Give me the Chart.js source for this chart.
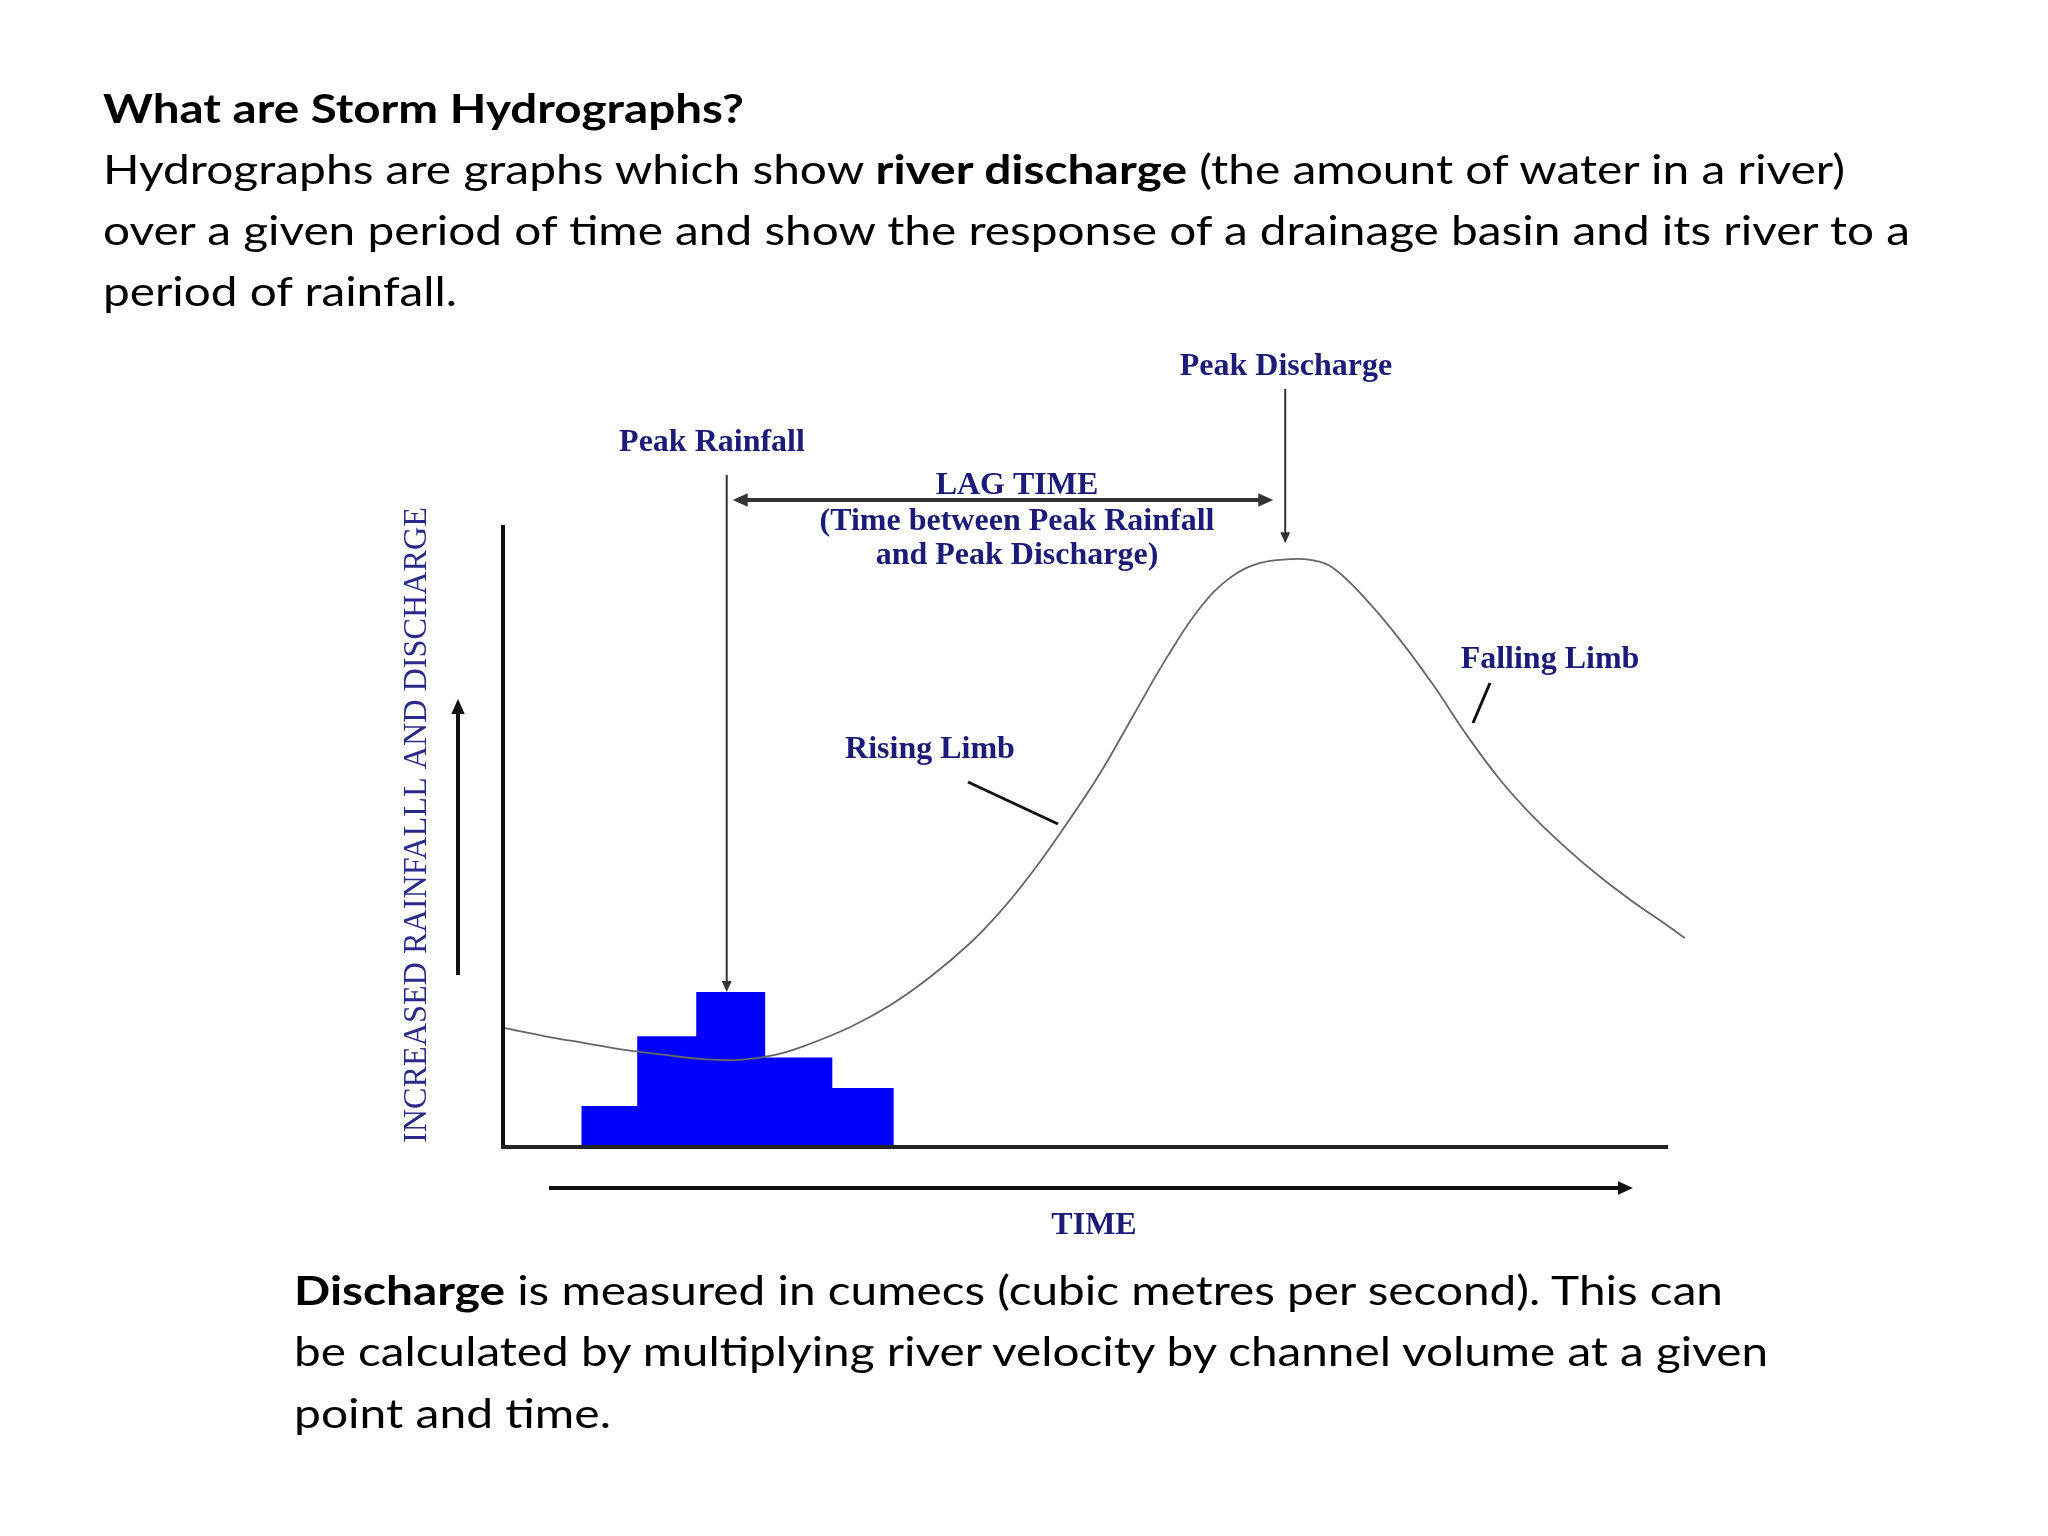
<!DOCTYPE html>
<html>
<head>
<meta charset="utf-8">
<title>What are Storm Hydrographs?</title>
<script src="https://cdn.jsdelivr.net/npm/chart.js@4.4.1/dist/chart.umd.min.js"></script>
<style>
  html, body { margin: 0; padding: 0; background: #fff; }
  #page { position: relative; width: 2048px; height: 1536px; overflow: hidden; background: #fff; }
  #chart { position: absolute; left: 0; top: 0; }
  .ln {
    position: absolute; white-space: nowrap; line-height: 1;
    font-family: Lato, 'Open Sans', sans-serif; font-size: 41px; color: #000;
    transform-origin: 0 0;
  }
  .ln b { font-weight: 700; }
</style>
</head>
<body>
<div id="page">
  <canvas id="chart" width="2048" height="1536"></canvas>

  <div class="ln" data-x="103" data-base="123" data-w="641"><b>What are Storm Hydrographs?</b></div>
  <div class="ln" data-x="103" data-base="184" data-w="1742">Hydrographs are graphs which show <b>river discharge</b> (the amount of water in a river)</div>
  <div class="ln" data-x="103" data-base="245" data-w="1807">over a given period of time and show the response of a drainage basin and its river to a</div>
  <div class="ln" data-x="103" data-base="306" data-w="354">period of rainfall.</div>

  <div class="ln" data-x="294" data-base="1305" data-w="1429"><b>Discharge</b> is measured in cumecs (cubic metres per second). This can</div>
  <div class="ln" data-x="294" data-base="1366" data-w="1474">be calculated by multiplying river velocity by channel volume at a given</div>
  <div class="ln" data-x="294" data-base="1428" data-w="317">point and time.</div>
</div>

<script>
// time axis (arbitrary hours from start of the storm)
const timeHours = [0.03, 0.68, 1.32, 1.96, 2.61, 3.25, 3.81, 4.38, 4.89, 5.59, 6.23, 6.87,
  7.52, 8.00, 8.48, 8.97, 9.61, 10.14, 10.69, 11.22, 11.70, 12.19, 12.67, 12.99,
  13.36, 13.91, 14.44, 14.97, 15.52, 16.05, 16.58, 17.13, 17.66, 18.19, 18.70, 19.02];
// river discharge (relative units)
const discharge = [19.1, 17.8, 16.7, 15.6, 14.8, 14.1, 14.0, 14.8, 16.4, 19.3, 22.8, 27.3,
  32.8, 37.8, 43.7, 50.5, 60.1, 69.3, 78.8, 86.7, 91.5, 93.9, 94.5, 94.4,
  93.1, 87.8, 81.5, 74.3, 66.1, 59.0, 53.1, 47.9, 43.4, 39.4, 35.9, 33.6];
// rainfall blocks: edges on the time axis and the amount in each block
const rainEdges = [1.26, 2.16, 3.11, 4.22, 5.30, 6.29];
const rainfall = [6.6, 17.8, 24.9, 14.4, 9.5];

const yLabel = 'INCREASED RAINFALLL AND DISCHARGE';
const xLabel = 'TIME';

// fit the slide text lines: put the baseline where it belongs, squeeze to width
function placeLines() {
  const pageTop = document.getElementById('page').getBoundingClientRect().top;
  document.querySelectorAll('.ln').forEach(el => {
    const mark = document.createElement('span');
    mark.style.cssText = 'display:inline-block;width:0;height:0;';
    el.appendChild(mark);
    el.style.left = el.dataset.x + 'px';
    el.style.top = '0px';
    const base = mark.getBoundingClientRect().bottom - pageTop;
    el.style.top = (Number(el.dataset.base) - base) + 'px';
    const w = el.getBoundingClientRect().width;
    el.style.transform = 'scaleX(' + (Number(el.dataset.w) / w) + ')';
  });
}

function arrow(ctx, x1, y1, x2, y2, head, width, color, both) {
  ctx.save();
  ctx.strokeStyle = color;
  ctx.fillStyle = color;
  ctx.lineWidth = width;
  const ang = Math.atan2(y2 - y1, x2 - x1);
  const tip = (px, py, a) => {
    ctx.beginPath();
    ctx.moveTo(px, py);
    ctx.lineTo(px - head * Math.cos(a) + head * 0.45 * Math.sin(a), py - head * Math.sin(a) - head * 0.45 * Math.cos(a));
    ctx.lineTo(px - head * Math.cos(a) - head * 0.45 * Math.sin(a), py - head * Math.sin(a) + head * 0.45 * Math.cos(a));
    ctx.closePath();
    ctx.fill();
  };
  ctx.beginPath();
  ctx.moveTo(x1 + (both ? head * 0.8 * Math.cos(ang) : 0), y1 + (both ? head * 0.8 * Math.sin(ang) : 0));
  ctx.lineTo(x2 - head * 0.8 * Math.cos(ang), y2 - head * 0.8 * Math.sin(ang));
  ctx.stroke();
  tip(x2, y2, ang);
  if (both) tip(x1, y1, ang + Math.PI);
  ctx.restore();
}

function line(ctx, x1, y1, x2, y2, width, color) {
  ctx.save();
  ctx.strokeStyle = color;
  ctx.lineWidth = width;
  ctx.beginPath();
  ctx.moveTo(x1, y1);
  ctx.lineTo(x2, y2);
  ctx.stroke();
  ctx.restore();
}

const hydroDecor = {
  id: 'hydroDecor',
  afterDraw(chart) {
    const { ctx, chartArea: a, scales: { x, y } } = chart;
    const navy = '#1c1c78';

    // axes
    line(ctx, a.left, a.top, a.left, a.bottom + 2, 4, '#111');
    line(ctx, a.left - 2, a.bottom, a.right, a.bottom, 4, '#222');

    // peak rainfall / peak discharge markers
    const ri = rainfall.indexOf(Math.max(...rainfall));
    const rainX = x.getPixelForValue((rainEdges[ri] + rainEdges[ri + 1]) / 2) - 4;
    const rainTop = y.getPixelForValue(rainfall[ri]);
    const qi = discharge.indexOf(Math.max(...discharge));
    const qX = x.getPixelForValue(timeHours[qi]) - 5;
    const qTop = y.getPixelForValue(discharge[qi]);

    arrow(ctx, rainX, 475, rainX, rainTop, 11, 2, '#333');
    arrow(ctx, qX, 389, qX, qTop - 16, 11, 2, '#333');
    arrow(ctx, rainX + 6, 500, qX - 12, 500, 15, 4, '#333', true);

    // leader lines for the limbs
    line(ctx, 968, 782, 1058, 824, 3, '#111');
    line(ctx, 1490, 683, 1473, 723, 3, '#111');

    // direction arrows
    arrow(ctx, 458, 975, 458, 699, 15, 4, '#111');
    arrow(ctx, 549, 1188, 1633, 1188, 15, 4, '#111');

    // labels
    ctx.save();
    ctx.fillStyle = navy;
    ctx.textAlign = 'center';
    ctx.textBaseline = 'alphabetic';
    ctx.font = 'bold 32px "Liberation Serif", serif';
    ctx.fillText('Peak Discharge', 1286, 375);
    ctx.fillText('Peak Rainfall', 712, 451);
    ctx.fillText('LAG TIME', 1017, 494);
    ctx.fillText('(Time between Peak Rainfall', 1017, 530);
    ctx.fillText('and Peak Discharge)', 1017, 564);
    ctx.fillText('Rising Limb', 930, 758);
    ctx.fillText('Falling Limb', 1550, 668);
    ctx.fillText(xLabel, 1094, 1234);

    // rotated y label, squeezed to its length
    ctx.font = '33px "Liberation Serif", serif';
    ctx.fillStyle = '#2a2a88';
    const w = ctx.measureText(yLabel).width;
    ctx.translate(426, 825);
    ctx.rotate(-Math.PI / 2);
    ctx.scale(636 / w, 1);
    ctx.fillText(yLabel, 0, 0);
    ctx.restore();
  }
};

new Chart(document.getElementById('chart'), {
  type: 'line',
  data: {
    datasets: [
      {
        label: 'Discharge',
        data: timeHours.map((t, i) => ({ x: t, y: discharge[i] })),
        borderColor: '#666',
        borderWidth: 1.8,
        pointRadius: 0,
        fill: false,
        tension: 0.4,
        clip: false
      },
      {
        label: 'Rainfall',
        data: rainEdges.map((t, i) => ({ x: t, y: i < rainfall.length ? rainfall[i] : 0 })),
        stepped: 'before',
        borderWidth: 0,
        borderColor: '#0000ff',
        backgroundColor: '#0000ff',
        pointRadius: 0,
        fill: 'origin'
      }
    ]
  },
  options: {
    responsive: false,
    animation: false,
    layout: { padding: { left: 503, right: 380, top: 525, bottom: 389 } },
    scales: {
      x: { type: 'linear', min: 0, max: 18.75, display: false },
      y: { type: 'linear', min: 0, max: 100, display: false }
    },
    plugins: {
      legend: { display: false },
      tooltip: { enabled: false }
    }
  },
  plugins: [hydroDecor]
});

document.fonts.ready.then(placeLines);
</script>
</body>
</html>
